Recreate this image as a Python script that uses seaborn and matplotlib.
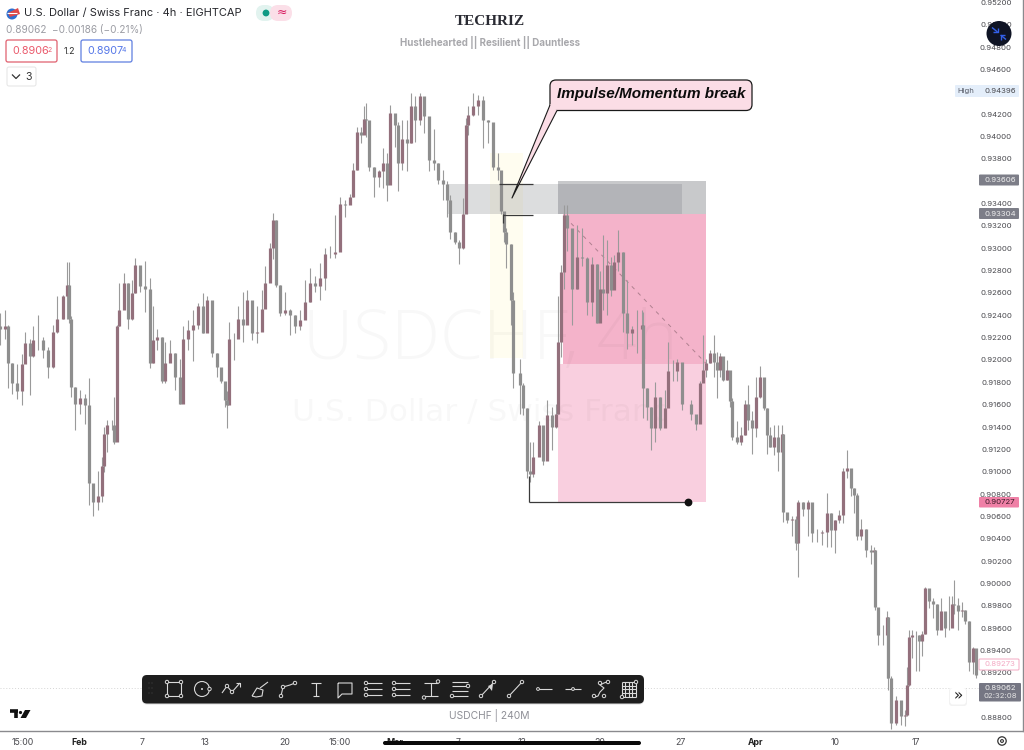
import numpy as np
import pandas as pd
import seaborn as sns
import matplotlib
matplotlib.use("Agg")
import matplotlib.pyplot as plt
from matplotlib.patches import FancyBboxPatch, Rectangle, Polygon, Circle

# ---------- data (prices in 1e-4 CHF units, x in chart time units) ----------
bar_x = [0,5,7.5,12,17,22,25,30,33,38,43,48,53,57,63,67,69,71,75,80,85,89,93,98,102,103.5,107,112,114,117,119,124,128,132,135,140,145,150,153,157,162,165,170,175,180,183,188,193,198,203,207,212,217,221,225,227,229,234,238,243,247,252,257,262,265,270,273,276,280,285,290,295,300,305,310,315,320,325,330,335,
340,345,350,353,357,361,364,366,369,374,379,383,387,390,395,398,402,407,411,415,420,424,429,434,438,443,447,450,455,459,463,466,468,473,478,483,488,493,498,501,504,506,511,513,520,523,527,530,533,539,543,547,552,556,558,561,564,567,572,577,582,587,592,597,600,603,607,611,614,618,623,627,632,637,642,643,647,651,655,660,665,668,673,677,
682,691,696,700,703,706,710,714,717,720,723,727,730,732,737,741,745,748,752,756,760,764,767,770,774,778,782,783,787,792,796,798,803,808,812,817,822,827,831,835,839,843,847,851,854,857,861,866,871,874,875,878,883,887,888,891,896,901,905,907,909,912,916,919,922,925,929,933,937,941,945,949,952,954,958,962,965,969,973,976]
close_pts = [9228,9230,9197,9179,9172,9196,9215,9204,9218,9218,9209,9194,9225,9237,9257,9267,9237,9176,9161,9166,9160,9090,9073,9078,9105,9134,9142,9142,9127,9230,9245,9269,9237,9260,9285,9266,9264,9197,9218,9221,9181,9197,9206,9185,9161,9219,9227,9231,9248,9224,9254,9206,9194,9181,9164,9160,9219,9219,9237,9231,9254,9224,9225,9246,9269,9300,9325,9267,9242,9245,9240,9230,9236,9252,9269,9266,9273,9295,9295,9297,
9340,9339,9346,9370,9404,9401,9416,9415,9373,9364,9369,9376,9357,9421,9410,9376,9398,9394,9427,9415,9436,9418,9379,9376,9361,9358,9343,9315,9306,9300,9331,9410,9419,9427,9433,9415,9413,9373,9370,9333,9315,9304,9254,9188,9178,9157,9101,9098,9113,9142,9110,9151,9140,9152,9216,9279,9330,9318,9264,9292,9291,9252,9286,9233,9264,9260,9285,9263,9288,9297,9242,9224,9228,9228,9231,9175,9158,9139,9167,9139,9157,9190,9190,9198,
9161,9152,9143,9179,9191,9197,9206,9198,9191,9204,9182,9191,9163,9131,9127,9133,9161,9146,9139,9167,9185,9157,9133,9122,9131,9118,9134,9064,9057,9058,9036,9073,9067,9073,9045,9045,9046,9063,9048,9057,9061,9101,9103,9085,9079,9042,9049,9030,9028,9030,8979,8954,8954,8970,8915,8875,8896,8881,8882,8909,8952,8954,8954,8948,8955,8996,8984,8982,8958,8975,8960,8960,8982,8981,8975,8976,8966,8930,8942,8918]
high_pts = [9242,9245,9231,9197,9196,9205,9225,9219,9230,9240,9221,9212,9231,9257,9258,9288,9288,9239,9176,9173,9170,9184,9088,9101,9113,9140,9146,9146,9167,9231,9269,9278,9269,9272,9291,9282,9289,9273,9248,9228,9221,9216,9218,9206,9201,9230,9236,9245,9251,9260,9257,9233,9206,9188,9179,9172,9234,9224,9248,9261,9263,9240,9248,9263,9284,9305,9332,9325,9267,9261,9246,9240,9245,9272,9282,9275,9287,9300,9302,9330,
9346,9343,9349,9376,9409,9409,9427,9430,9413,9373,9370,9390,9385,9428,9419,9413,9415,9415,9439,9436,9439,9424,9410,9407,9376,9370,9360,9348,9315,9307,9345,9417,9427,9439,9437,9436,9415,9403,9385,9368,9331,9318,9304,9261,9201,9179,9157,9127,9127,9145,9140,9164,9158,9161,9257,9285,9339,9339,9306,9321,9318,9292,9292,9286,9280,9312,9307,9292,9294,9316,9297,9272,9230,9245,9245,9243,9175,9158,9180,9167,9173,9216,9200,9201,
9176,9164,9149,9181,9222,9201,9209,9222,9207,9206,9200,9200,9190,9166,9145,9140,9164,9178,9154,9185,9195,9176,9157,9140,9142,9142,9142,9134,9063,9060,9060,9075,9073,9075,9066,9049,9048,9081,9063,9057,9066,9103,9119,9101,9085,9081,9058,9049,9034,9033,9030,8978,8963,8975,8970,8917,8899,8893,8887,8925,8958,8958,8957,8954,8957,8997,8994,8987,8982,8987,8973,8989,8989,9003,8987,8983,8976,8966,8943,8940]
low_pts = [9213,9219,9175,9170,9165,9160,9197,9169,9203,9209,9202,9184,9193,9224,9237,9237,9233,9167,9137,9152,9143,9070,9060,9066,9073,9100,9118,9137,9125,9128,9230,9251,9228,9236,9260,9261,9243,9193,9197,9209,9179,9179,9199,9173,9161,9203,9209,9199,9228,9224,9233,9203,9185,9179,9158,9139,9167,9200,9221,9216,9236,9218,9215,9237,9248,9280,9290,9265,9239,9240,9222,9224,9227,9237,9252,9261,9254,9263,9291,9291,
9319,9328,9340,9346,9370,9394,9404,9400,9369,9346,9355,9354,9342,9373,9391,9351,9370,9369,9394,9395,9410,9403,9369,9370,9358,9343,9328,9308,9304,9286,9299,9343,9401,9418,9419,9390,9394,9370,9361,9331,9306,9282,9231,9175,9152,9151,9094,9091,9095,9121,9106,9116,9119,9139,9152,9203,9264,9298,9231,9264,9284,9240,9239,9233,9250,9245,9240,9257,9273,9280,9225,9210,9213,9206,9228,9148,9146,9119,9127,9137,9155,9170,9181,9181,
9155,9146,9137,9145,9182,9185,9197,9185,9166,9185,9181,9182,9158,9128,9125,9124,9133,9137,9116,9131,9166,9155,9116,9122,9115,9101,9118,9055,9054,9042,9030,9006,9060,9042,9037,9037,9034,9033,9033,9027,9054,9054,9094,9078,9063,9039,9039,9024,9017,9030,8976,8945,8945,8915,8905,8870,8873,8873,8872,8881,8908,8933,8922,8922,8935,8955,8978,8969,8954,8960,8952,8958,8967,8973,8958,8970,8964,8922,8919,8915]
open_first = 9230

price_ticks = [0.952,0.950,0.948,0.946,0.942,0.940,0.938,0.934,0.932,0.930,0.928,0.926,0.924,0.922,0.920,0.918,0.916,0.914,0.912,0.910,0.908,0.906,0.904,0.902,0.900,0.898,0.896,0.894,0.892,0.888]
time_ticks = [23,79,142,205,285,340,395,458,522,600,680,756,835,916]
time_labels = ["15:00","Feb","7","13","20","15:00","Mar","7","13","20","27","Apr","10","17"]
month_labels = ["Feb","Mar","Apr"]

zone_top, zone_bottom = 0.93606, 0.93304
zone_inner_top = 0.9358
target_mid, target_low = 0.91964, 0.90727
last_price, ask_line = 0.89062, 0.89273
high_price = 0.94396

# ---------- style ----------
sns.set_theme(style="white")
plt.rcParams["font.family"] = ["Inter", "DejaVu Sans"]
plt.rcParams["lines.solid_capstyle"] = "butt"
fig = plt.figure(figsize=(10.24, 7.5), dpi=100, facecolor="white")
H = 750.0
PRICE_PER_PX = 1 / 11170.0
ax = fig.add_axes([0, (H - 730.7) / H, 1023 / 1024, 730.7 / H])
ax.set_facecolor("white")
ax.set_xlim(0, 1023)
ax.set_ylim(0.92 - 370.7 * PRICE_PER_PX, 0.92 + 360 * PRICE_PER_PX)

# ---------- chart data frames ----------
close = np.array(close_pts) / 1e4
high = np.array(high_pts) / 1e4
low = np.array(low_pts) / 1e4
opens = np.r_[open_first / 1e4, close[:-1]]
bars = np.arange(len(close))
wicks = pd.DataFrame({"bar": np.r_[bars, bars], "x": np.r_[bar_x, bar_x], "price": np.r_[low, high]})
dirn = np.where(close >= opens, "up", "down")
bodies = pd.DataFrame({"bar": np.r_[bars, bars], "x": np.r_[bar_x, bar_x], "price": np.r_[opens, close],
                       "dir": np.r_[dirn, dirn]})

# ---------- zones under candles ----------
ax.add_patch(Rectangle((490, 0.92018), 33, 0.93853 - 0.92018, fc="#fffdf0", ec="none", zorder=1))
ax.add_patch(Rectangle((558, target_low), 148, target_mid - target_low, fc="#f9cfdf", ec="none", zorder=1.1))
ax.add_patch(Rectangle((563, target_mid), 143, zone_bottom - target_mid, fc="#f4b3ca", ec="none", zorder=1.2))
ax.add_patch(Rectangle((447, zone_bottom), 235, zone_inner_top - zone_bottom, fc="#77787f", alpha=0.25, ec="none", zorder=1.3))
ax.add_patch(Rectangle((558, zone_bottom), 148, zone_top - zone_bottom, fc="#77787f", alpha=0.40, ec="none", zorder=1.4))
ax.plot([565, 706], [0.9328, 0.9197], color="#b08090", lw=0.7, ls=(0, (4, 5)), zorder=1.5)
ax.axhline(last_price, xmax=979 / 1023, color="#d5d5d5", lw=0.7, ls=(0, (1, 2)), zorder=1.5)
ax.text(303, 0.92 + 19 * PRICE_PER_PX, "USDCHF, 4h", fontsize=50, color="black", alpha=0.028, ha="left", va="center",
        family="Open Sans", fontweight="light", zorder=2)
ax.text(292, 0.92 - 53 * PRICE_PER_PX, "U.S. Dollar / Swiss Franc", fontsize=22.5, color="black", alpha=0.028, ha="left", va="center",
        family="DejaVu Sans", zorder=2)

# ---------- candles ----------
sns.lineplot(data=wicks, x="x", y="price", units="bar", estimator=None, sort=False,
             color="#9a9a9a", lw=0.8, ax=ax, legend=False, zorder=3)
sns.lineplot(data=bodies, x="x", y="price", units="bar", hue="dir", hue_order=["up", "down"],
             palette={"up": "#93707c", "down": "#8e8e8e"}, estimator=None, sort=False,
             lw=2.3, ax=ax, legend=False, zorder=4)

# ---------- level lines ----------
ink = "#3a3a3a"
ax.plot([499, 533], [0.9358, 0.9358], color=ink, lw=0.9, zorder=5)
ax.plot([503, 533], [zone_bottom - 0.00003, zone_bottom - 0.00003], color=ink, lw=0.9, zorder=5)
ax.plot([503, 503], [zone_bottom, 0.9323], color=ink, lw=0.9, zorder=5)
ax.plot([529, 688], [target_low, target_low], color=ink, lw=0.9, zorder=5)
ax.plot([529, 529], [target_low, 0.90960], color=ink, lw=0.9, zorder=5)
ax.plot([688], [target_low], "o", color="#111111", ms=4.6, zorder=6)

# ---------- axes ----------
for s in ["left", "top"]:
    ax.spines[s].set_visible(False)
for s in ["bottom", "right"]:
    ax.spines[s].set_color("#8a8a8e")
    ax.spines[s].set_linewidth(1.0)
ax.set_xlabel("")
ax.set_ylabel("")
ax.yaxis.tick_right()
ax.set_yticks(price_ticks)
ax.set_yticklabels([f"{p:.5f}" for p in price_ticks], fontsize=5.6, color="#4a4a4f", ha="right")
ax.tick_params(axis="y", length=0, pad=-8)
ax.set_xticks(time_ticks)
ax.set_xticklabels(time_labels, fontsize=6.3, color="#4a4a4f")
ax.tick_params(axis="x", length=0, pad=5.5)
for t in ax.get_xticklabels():
    if t.get_text() in month_labels:
        t.set_fontweight("bold")
        t.set_color("#222222")

# ---------- interface overlay ----------
ui = fig.add_axes([0, 0, 1, 1], facecolor="none")
ui.set_xlim(0, 1024)
ui.set_ylim(750, 0)
ui.axis("off")
ui.set_zorder(10)

def box(x0, y0, x1, y1, fc, ec="none", lw=0.0, r=2, z=5, alpha=1):
    p = FancyBboxPatch((x0 + r, y0 + r), x1 - x0 - 2 * r, y1 - y0 - 2 * r, boxstyle=f"round,pad={r},rounding_size={r}",
                       fc=fc, ec=ec, lw=lw, zorder=z, alpha=alpha, mutation_aspect=1)
    ui.add_patch(p)

def label(x, y, s, size=5.6, color="#4a4a4f", ha="center", weight="normal", fam=None, style="normal", z=7):
    return ui.text(x, y, s, fontsize=size, color=color, ha=ha, va="center", fontweight=weight,
                   family=fam or "Inter", fontstyle=style, zorder=z)

# header
ui.add_patch(Circle((12, 14), 5.5, fc="#2f6fd0", ec="none", zorder=5))
ui.add_patch(Polygon([[8, 13], [18, 8], [20, 14], [10, 17]], fc="#e04848", ec="none", zorder=5.1))
ui.plot([7, 17], [13, 13], color="white", lw=0.8, zorder=5.2)
label(24, 13, "U.S. Dollar / Swiss Franc · 4h · EIGHTCAP", size=7.95, color="#25262b", ha="left")
box(256, 5, 274, 21, "#e2f3ef", r=8)
box(270, 5, 292, 21, "#fbdfe8", r=8)
ui.add_patch(Circle((266, 13), 3.4, fc="#0f9b85", ec="none", zorder=6))
label(282, 12.5, "≈", size=9, color="#d81b60", fam="DejaVu Sans")
label(6, 30, "0.89062  −0.00186 (−0.21%)", size=7.2, color="#9b9ca3", ha="left")
box(6, 40, 57, 62, "white", ec="#e0606f", lw=0.9, r=2)
label(12, 51, "0.8906", size=7.8, color="#ea5a6c", ha="left")
label(50, 49.5, "2", size=5, color="#ea5a6c", ha="center")
label(69, 51, "1.2", size=6.4, color="#303030")
box(81, 40, 132, 62, "white", ec="#5e7ee0", lw=0.9, r=2)
label(87, 51, "0.8907", size=7.8, color="#5577e8", ha="left")
label(124, 49.5, "4", size=5, color="#5577e8", ha="center")
box(7, 67, 36, 86, "white", ec="#e4e4e4", lw=0.7, r=2)
ui.plot([12, 16, 20], [74.5, 78.5, 74.5], color="#333333", lw=0.9, zorder=7)
label(29, 76.5, "3", size=7.6, color="#333333")

label(489.5, 21.5, "TECHRIZ", size=11, color="#2a2b33", weight="bold", fam="Liberation Serif")
label(489.5, 42.5, "Hustlehearted || Resilient || Dauntless", size=7.0, color="#a8a8ac", weight="bold")

# callout
pink = "#fbdde6"
box(550, 80, 752, 110.5, pink, ec="#1a1a1a", lw=0.9, r=6, z=6)
ui.add_patch(Polygon([[550.5, 104], [512, 198], [557, 110.5]], fc=pink, ec="none", zorder=6.1))
ui.plot([550, 512, 557], [105, 198, 110.5], color="#1a1a1a", lw=0.8, zorder=6.2)
label(651, 94, "Impulse/Momentum break", size=11, color="#0c0c0c", weight="bold", fam="Liberation Sans", style="italic")

# price tags
box(955, 85, 1019, 97, "#e4eefa", r=1)
label(966, 91, "High", size=5.6, color="#565a66")
label(1000, 91, "0.94396")
for yy, txt in [(180, "0.93606"), (213.5, "0.93304")]:
    box(979, yy - 5.5, 1019, yy + 5.5, "#7d7e88", r=1)
    label(1000, yy, txt, color="#eeeeee")
box(979, 497, 1019, 507.5, "#ef80a6", r=1)
label(1000, 502, "0.90727", color="#3c1a28")
box(979, 659, 1019, 670, "white", ec="#f3a9c3", lw=0.7, r=1)
label(1000, 664.5, "0.89273", color="#f3a9c3")
box(979, 683, 1021, 701.5, "#757683", r=1)
label(1000, 688, "0.89062", color="#f0f0f0")
label(1000, 696.5, "02:32:08", color="#e4e4e4")

# floating buttons
ui.add_patch(Circle((999, 33.5), 12.5, fc="#0f1424", ec="none", zorder=8))
blue = "#3360e8"
for sx in (-1, 1):
    ui.plot([999 + sx * 7, 999 + sx * 1.5], [33.5 + sx * 6, 33.5 + sx * 1.5], color=blue, lw=1.0, zorder=9)
    ui.plot([999 + sx * 6, 999 + sx * 1.5, 999 + sx * 1.5], [33.5 + sx * 1.5, 33.5 + sx * 1.5, 33.5 + sx * 6],
            color=blue, lw=1.0, zorder=9)
box(949, 688, 967, 706, "#f2f2f2", r=3, z=5)
box(950, 688, 966, 704.5, "white", r=3, z=5.1)
label(958, 696, "»", size=11, color="#222222", fam="DejaVu Sans")
ui.add_patch(Circle((1002, 741), 4.2, fc="white", ec="#333333", lw=0.9, zorder=7))
ui.add_patch(Circle((1002, 741), 1.4, fc="white", ec="#333333", lw=0.8, zorder=7))
label(489.5, 715, "USDCHF | 240M", size=7.4, color="#8e8f96")

# home indicator
box(383, 741, 641, 745, "#0a0a0a", r=2, z=9)

# logo
ui.plot([10, 18], [710.5, 710.5], color="#111111", lw=2.6, zorder=7, solid_capstyle="butt")
ui.plot([15.5, 15.5], [710, 718], color="#111111", lw=2.6, zorder=7, solid_capstyle="butt")
ui.add_patch(Circle((20.5, 712.5), 1.6, fc="#111111", ec="none", zorder=7))
ui.add_patch(Polygon([[25, 710], [30.5, 710], [26, 718], [20.5, 718]], fc="#111111", ec="none", zorder=7))

# drawing toolbar
box(142, 675, 644, 703.5, "#1e1e1e", r=5, z=7)
box(142, 675, 644, 704.5, "#bbbbbb", r=5, z=6.5, alpha=0.5)
ic = "#d9d9d9"
Z = 8
def seg(xs, ys, lw=0.8, c=ic, **kw):
    ui.plot(xs, ys, color=c, lw=lw, zorder=Z, **kw)
def node(x, y, r=1.7):
    ui.add_patch(Circle((x, y), r, fc="#1e1e1e", ec=ic, lw=0.7, zorder=Z + 0.1))

for gy in (683, 688, 693):
    for gx in (149, 152):
        ui.add_patch(Circle((gx, gy), 0.6, fc="#444444", ec="none", zorder=Z))
# rectangle
seg([167, 181, 181, 167, 167], [682, 682, 696, 696, 682])
for a, b in [(167, 682), (181, 682), (167, 696), (181, 696)]:
    node(a, b)
# circle
ui.add_patch(Circle((202, 689), 7.5, fc="none", ec=ic, lw=0.8, zorder=Z))
ui.add_patch(Circle((202, 689), 1.0, fc=ic, ec="none", zorder=Z))
node(209.5, 689)
# zigzag arrow
seg([222, 227, 232, 240], [693, 686, 692, 683])
node(227, 686); node(232, 692); seg([236, 240, 240], [683, 683, 687])
# brush
seg([252, 257, 263, 262, 256, 252], [696, 688, 690, 696, 697, 696])
seg([260, 268], [688, 682])
# curved path
seg([281, 283, 290, 295], [696, 687, 685, 683])
node(281, 696); node(283, 687); node(295, 683)
# text
seg([311, 321], [683, 683]); seg([316, 316], [683, 696]); seg([313, 319], [696, 696])
# speech
seg([338, 352, 352, 342, 338, 338], [683, 683, 694, 694, 698, 683])
# fib 1
for fx, rows in [(373, (683, 689, 695)), (401, (683, 689, 695))]:
    for r_ in rows:
        seg([fx - 7, fx + 9], [r_, r_])
        node(fx - 7, r_)
# measure
seg([431, 431], [683, 696]); seg([424, 438], [683, 683]); seg([424, 438], [696, 696])
node(438, 681.5); node(424, 697.5)
# lines
for r_ in (682, 686, 691, 696):
    seg([452, 468], [r_, r_])
node(468, 686); node(452, 696)
# arrow trend
seg([481, 494], [696, 682]); node(481, 696); node(494, 682)
ui.add_patch(Polygon([[488, 686], [492, 691], [493, 684]], fc=ic, ec="none", zorder=Z))
# trend
seg([509, 522], [696, 682]); node(509, 696); node(522, 682)
# rays
seg([538, 552], [689, 689]); node(538, 689, 1.4)
seg([565, 581], [689, 689]); node(573, 689, 1.4)
# curve
seg([595, 598, 600, 604, 600, 604, 607], [697, 696, 692, 688, 685, 683, 682]); node(594, 696); node(604, 696); node(600, 683); node(608, 682)
# grid
for k in range(5):
    seg([622 + k * 3.4, 622 + k * 3.4], [682, 697])
    seg([622, 636], [682 + k * 3.7, 682 + k * 3.7])
node(622, 697); node(636, 682)

fig.savefig("out.png", dpi=100)
